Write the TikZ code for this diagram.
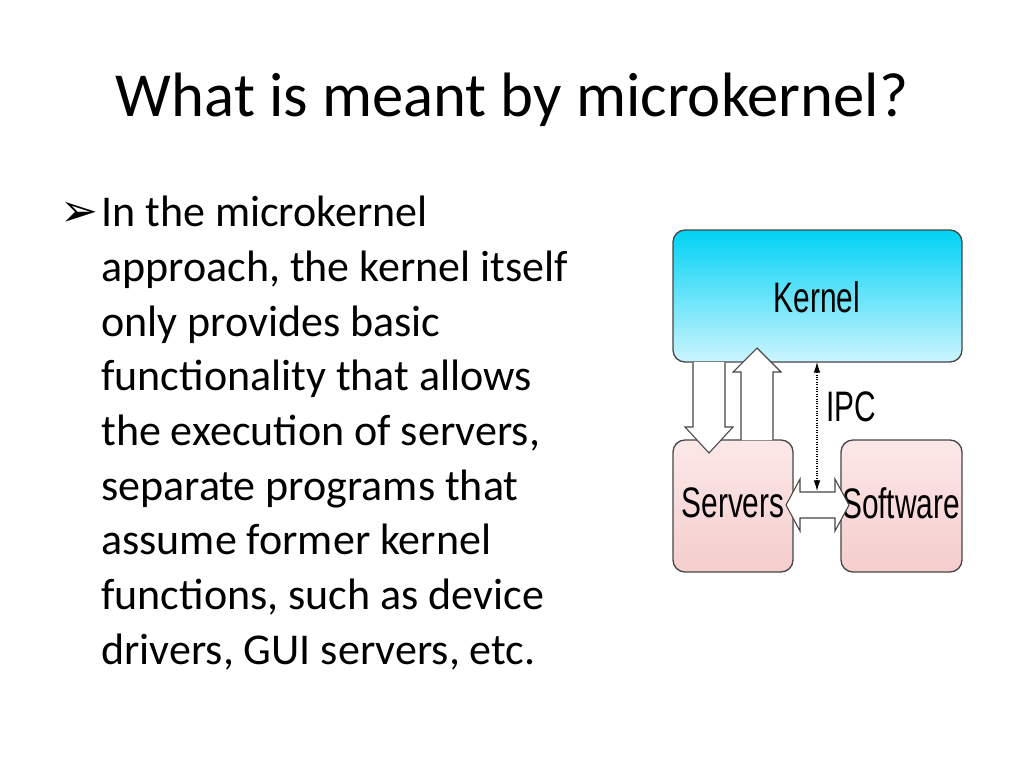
\documentclass[tikz,border=0pt]{standalone}
\usepackage{fontspec}
\usetikzlibrary{arrows.meta}
\setmainfont{Carlito}
\newfontfamily\diafont{Liberation Sans}
\newfontfamily\symfont{DejaVu Sans}
\definecolor{kTop}{RGB}{0,210,245}
\definecolor{kBot}{RGB}{205,245,255}
\definecolor{pTop}{RGB}{252,232,232}
\definecolor{pBot}{RGB}{245,205,205}
\definecolor{edge}{RGB}{70,70,70}
\begin{document}
\begin{tikzpicture}[x=0.75pt,y=-0.75pt,
  box/.style={draw=edge,line width=1pt,rounded corners=9pt},
  lbl/.style={font=\diafont\fontsize{32}{34}\selectfont,xscale=0.7,inner sep=0},
  harrow/.style={draw=edge,fill=white,line width=0.8pt}]
\useasboundingbox (0,0) rectangle (1024,768);
\fill[white] (0,0) rectangle (1024,768);
\node[font=\fontsize{47}{52}\selectfont,inner sep=0] (title) at (512,100) {What is meant by microkernel?};
\node[font=\symfont\fontsize{34}{36}\selectfont,inner sep=0] (bul) at (79,214) {➢};
\node[font=\fontsize{33}{41}\selectfont,align=left,anchor=north west,inner sep=0] (body) at (101,196) {In the microkernel\\approach, the kernel itself\\only provides basic\\functionality that allows\\the execution of servers,\\separate programs that\\assume former kernel\\functions, such as device\\drivers, GUI servers, etc.};
% boxes
\shade[top color=kTop,bottom color=kBot,rounded corners=9pt] (673,230) rectangle (962,362);
\draw[box] (673,230) rectangle (962,362);
\node[lbl] (kernel) at (817,297) {Kernel};
\shade[top color=pTop,bottom color=pBot,rounded corners=9pt] (673,440) rectangle (793,572);
\draw[box] (673,440) rectangle (793,572);
\node[lbl] (servers) at (733,503) {Servers};
\shade[top color=pTop,bottom color=pBot,rounded corners=9pt] (841,440) rectangle (962,572);
\draw[box] (841,440) rectangle (962,572);
\node[lbl] (software) at (901,503) {Software};
% down arrow
\draw[harrow] (693,362) -- (693,427) -- (685,427) -- (709,453) -- (733,427) -- (725,427) -- (725,362);
% up arrow
\draw[harrow] (741,440) -- (741,372) -- (733,372) -- (757,348) -- (781,372) -- (773,372) -- (773,440);
% horizontal double arrow
\draw[harrow] (786,505) -- (800,479) -- (800,492) -- (835,492) -- (835,479) -- (849,505) -- (835,531) -- (835,518) -- (800,518) -- (800,531) -- cycle;
% IPC
\coordinate (ipcTop) at (817,362);
\coordinate (ipcBot) at (817,491);
\draw[densely dotted,line width=0.8pt,{Latex[length=8pt,width=5pt]}-{Latex[length=8pt,width=5pt]}] (ipcTop) -- (ipcBot);
\node[lbl,anchor=west] (ipc) at (826,407) {IPC};
\end{tikzpicture}
\end{document}
